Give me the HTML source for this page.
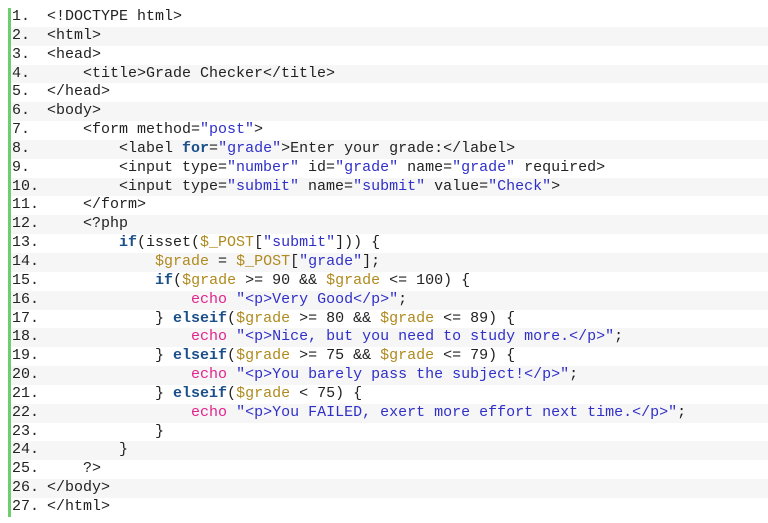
<!DOCTYPE html>
<html><head><style>
html,body{margin:0;padding:0;background:#fff;width:768px;height:523px;overflow:hidden}
#c{position:absolute;left:8px;top:8px;width:760px;border-left:3px solid #6ccf6c;}
.r{height:18.85px;line-height:18.85px;white-space:pre;font-family:"Liberation Mono",monospace;font-size:15px;color:#222;position:relative}
.r:nth-child(even){background:#f6f6f6}
.n{position:absolute;left:1px}
.t{position:absolute;left:36px}
.s{color:#3030c8}.k{color:#1a4f8a;font-weight:bold}.v{color:#b08a1e}.e{color:#e0248c}
</style></head><body><div id="c">
<div class="r"><span class="n">1.</span><span class="t">&lt;!DOCTYPE html&gt;</span></div>
<div class="r"><span class="n">2.</span><span class="t">&lt;html&gt;</span></div>
<div class="r"><span class="n">3.</span><span class="t">&lt;head&gt;</span></div>
<div class="r"><span class="n">4.</span><span class="t">    &lt;title&gt;Grade Checker&lt;/title&gt;</span></div>
<div class="r"><span class="n">5.</span><span class="t">&lt;/head&gt;</span></div>
<div class="r"><span class="n">6.</span><span class="t">&lt;body&gt;</span></div>
<div class="r"><span class="n">7.</span><span class="t">    &lt;form method=<span class="s">"post"</span>&gt;</span></div>
<div class="r"><span class="n">8.</span><span class="t">        &lt;label <span class="k">for</span>=<span class="s">"grade"</span>&gt;Enter your grade:&lt;/label&gt;</span></div>
<div class="r"><span class="n">9.</span><span class="t">        &lt;input type=<span class="s">"number"</span> id=<span class="s">"grade"</span> name=<span class="s">"grade"</span> required&gt;</span></div>
<div class="r"><span class="n">10.</span><span class="t">        &lt;input type=<span class="s">"submit"</span> name=<span class="s">"submit"</span> value=<span class="s">"Check"</span>&gt;</span></div>
<div class="r"><span class="n">11.</span><span class="t">    &lt;/form&gt;</span></div>
<div class="r"><span class="n">12.</span><span class="t">    &lt;?php</span></div>
<div class="r"><span class="n">13.</span><span class="t">        <span class="k">if</span>(isset(<span class="v">$_POST</span>[<span class="s">"submit"</span>])) {</span></div>
<div class="r"><span class="n">14.</span><span class="t">            <span class="v">$grade</span> = <span class="v">$_POST</span>[<span class="s">"grade"</span>];</span></div>
<div class="r"><span class="n">15.</span><span class="t">            <span class="k">if</span>(<span class="v">$grade</span> &gt;= 90 &amp;&amp; <span class="v">$grade</span> &lt;= 100) {</span></div>
<div class="r"><span class="n">16.</span><span class="t">                <span class="e">echo</span> <span class="s">"&lt;p&gt;Very Good&lt;/p&gt;"</span>;</span></div>
<div class="r"><span class="n">17.</span><span class="t">            } <span class="k">elseif</span>(<span class="v">$grade</span> &gt;= 80 &amp;&amp; <span class="v">$grade</span> &lt;= 89) {</span></div>
<div class="r"><span class="n">18.</span><span class="t">                <span class="e">echo</span> <span class="s">"&lt;p&gt;Nice, but you need to study more.&lt;/p&gt;"</span>;</span></div>
<div class="r"><span class="n">19.</span><span class="t">            } <span class="k">elseif</span>(<span class="v">$grade</span> &gt;= 75 &amp;&amp; <span class="v">$grade</span> &lt;= 79) {</span></div>
<div class="r"><span class="n">20.</span><span class="t">                <span class="e">echo</span> <span class="s">"&lt;p&gt;You barely pass the subject!&lt;/p&gt;"</span>;</span></div>
<div class="r"><span class="n">21.</span><span class="t">            } <span class="k">elseif</span>(<span class="v">$grade</span> &lt; 75) {</span></div>
<div class="r"><span class="n">22.</span><span class="t">                <span class="e">echo</span> <span class="s">"&lt;p&gt;You FAILED, exert more effort next time.&lt;/p&gt;"</span>;</span></div>
<div class="r"><span class="n">23.</span><span class="t">            }</span></div>
<div class="r"><span class="n">24.</span><span class="t">        }</span></div>
<div class="r"><span class="n">25.</span><span class="t">    ?&gt;</span></div>
<div class="r"><span class="n">26.</span><span class="t">&lt;/body&gt;</span></div>
<div class="r"><span class="n">27.</span><span class="t">&lt;/html&gt;</span></div>
</div></body></html>
